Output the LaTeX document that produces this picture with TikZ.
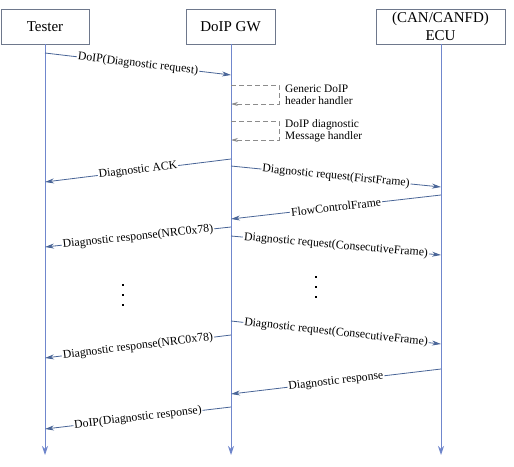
\documentclass[tikz,border=0pt]{standalone}
\usepackage{fontspec}
\setmainfont{Liberation Serif}
\usetikzlibrary{arrows.meta}
\definecolor{boxline}{RGB}{110,120,140}
\definecolor{lifeline}{RGB}{112,135,205}
\definecolor{msgline}{RGB}{72,100,150}
\definecolor{tipcol}{RGB}{80,110,170}
\definecolor{dashcol}{RGB}{140,140,140}
\tikzset{
  header/.style={draw=boxline, line width=0.8pt, minimum height=35pt, inner sep=0pt, align=center, font=\fontsize{15}{18}\selectfont},
  life/.style={draw=lifeline, line width=1pt, -{Stealth[length=9pt,width=6pt,fill=tipcol]}},
  msg/.style={draw=msgline, line width=0.8pt, -{Stealth[length=9pt,width=5pt,fill=tipcol]}},
  lbl/.style={sloped, fill=white, inner sep=1pt, font=\fontsize{11.8}{13}\selectfont},
  selfmsg/.style={draw=dashcol, line width=0.7pt, dash pattern=on 5pt off 3pt, -{Stealth[length=7pt,width=4pt,fill=tipcol]}},
  note/.style={anchor=west, align=left, inner sep=0pt, font=\fontsize{11.4}{12.5}\selectfont},
  dotmark/.style={fill=black}
}
\begin{document}
\begin{tikzpicture}[x=1pt,y=-1pt]
\useasboundingbox (0,0) rectangle (514,466);
% headers
\node[header, minimum width=88pt] (tester) at (45,26.5) {Tester};
\node[header, minimum width=89pt] (gw) at (230.5,26.5) {DoIP GW};
\node[header, minimum width=129pt] (ecu) at (440.5,26.5) {(CAN/CANFD)\\ECU};
% lifeline ends
\coordinate (tEnd) at (45,455);
\coordinate (gEnd) at (231,455);
\coordinate (eEnd) at (441,455);
\draw[life] (tester.south) -- (tEnd);
\draw[life] (tester.south -| gEnd) -- (gEnd);
\draw[life] (tester.south -| eEnd) -- (eEnd);
% message endpoints
\coordinate (m1s) at (45,53);   \coordinate (m1e) at (231,75);
\coordinate (d1s) at (231,85);  \coordinate (d1e) at (231,104);
\coordinate (d2s) at (231,121); \coordinate (d2e) at (231,140);
\coordinate (m4s) at (231,159); \coordinate (m4e) at (45,182);
\coordinate (m5s) at (231,166); \coordinate (m5e) at (441,187);
\coordinate (m6s) at (441,195); \coordinate (m6e) at (231,219);
\coordinate (m7s) at (231,227); \coordinate (m7e) at (45,247);
\coordinate (m8s) at (231,236); \coordinate (m8e) at (441,255);
\coordinate (m10s) at (231,321); \coordinate (m10e) at (441,344);
\coordinate (m11s) at (231,335); \coordinate (m11e) at (45,358);
\coordinate (m12s) at (441,369); \coordinate (m12e) at (231,394);
\coordinate (m13s) at (231,407); \coordinate (m13e) at (45,429);
% messages
\draw[msg] (m1s) -- node[lbl]{DoIP(Diagnostic request)} (m1e);
\draw[selfmsg] (d1s) -- ++(48,0) |- (d1e);
\node[note] (n1) at (285,95) {Generic DoIP\\header handler};
\draw[selfmsg] (d2s) -- ++(48,0) |- (d2e);
\node[note] (n2) at (285,131) {DoIP diagnostic\\Message handler};
\draw[msg] (m4s) -- node[lbl]{Diagnostic ACK} (m4e);
\draw[msg] (m5s) -- node[lbl]{Diagnostic request(FirstFrame)} (m5e);
\draw[msg] (m6s) -- node[lbl]{FlowControlFrame} (m6e);
\draw[msg] (m7s) -- node[lbl]{Diagnostic response(NRC0x78)} (m7e);
\draw[msg] (m8s) -- node[lbl]{Diagnostic request(ConsecutiveFrame)} (m8e);
\draw[msg] (m10s) -- node[lbl]{Diagnostic request(ConsecutiveFrame)} (m10e);
\draw[msg] (m11s) -- node[lbl]{Diagnostic response(NRC0x78)} (m11e);
\draw[msg] (m12s) -- node[lbl]{Diagnostic response} (m12e);
\draw[msg] (m13s) -- node[lbl]{DoIP(Diagnostic response)} (m13e);
% ellipsis dots
\foreach \y in {284,294,304} \fill[dotmark] (122,\y) rectangle ++(2,2);
\foreach \y in {276,286,296} \fill[dotmark] (315,\y) rectangle ++(2,2);
\end{tikzpicture}
\end{document}
